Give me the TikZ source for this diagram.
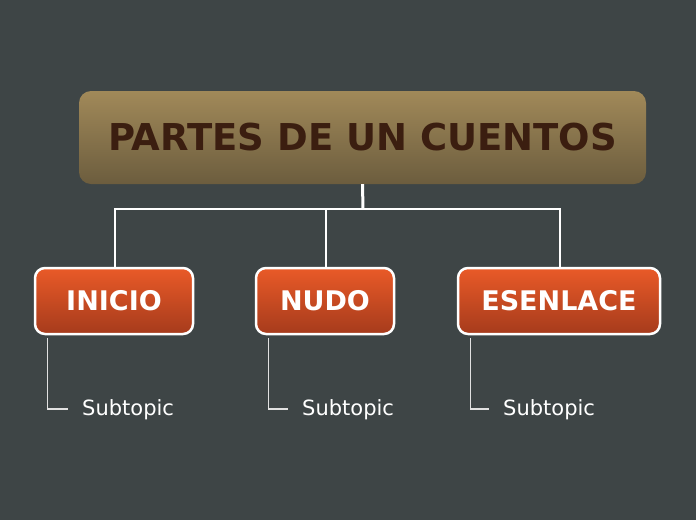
\documentclass[tikz,border=0pt]{standalone}
\usepackage{fontspec}
\setmainfont{DejaVu Sans}
\definecolor{bgc}{RGB}{62,69,70}
\definecolor{titletop}{RGB}{161,137,89}
\definecolor{titlebot}{RGB}{108,93,62}
\definecolor{titletext}{RGB}{59,30,16}
\definecolor{childtop}{RGB}{233,90,40}
\definecolor{childbot}{RGB}{166,59,28}
\definecolor{subline}{RGB}{225,225,225}
\tikzset{
  titlebox/.style={rounded corners=12pt, top color=titletop, bottom color=titlebot,
    minimum width=567pt, minimum height=93pt, inner sep=0pt, text=titletext,
    font=\fontsize{37}{40}\selectfont\bfseries},
  childbox/.style={rounded corners=10pt, draw=white, line width=2.5pt,
    top color=childtop, bottom color=childbot, minimum height=66pt, inner sep=0pt,
    text=white, font=\fontsize{27}{30}\selectfont\bfseries},
  subtext/.style={anchor=west, inner sep=0pt, text=white, font=\fontsize{21}{24}\selectfont},
  conn/.style={draw=white, line width=2.7pt},
  subconn/.style={draw=subline, line width=1.4pt},
}
\begin{document}
\begin{tikzpicture}[x=1pt,y=1pt]
\fill[bgc] (0,0) rectangle (696,-520);
\useasboundingbox (0,0) rectangle (696,-520);
\node[titlebox] (title) at (362.5,-137.5) {PARTES DE UN CUENTOS};
\node[childbox, minimum width=158pt] (inicio) at (114,-301) {INICIO};
\node[childbox, minimum width=138pt] (nudo) at (325,-301) {NUDO};
\node[childbox, minimum width=202pt] (esenlace) at (559,-301) {ESENLACE};
\coordinate (j) at (363,-209);
\draw[conn, line width=3pt] (title.south) -- (j);
\draw[conn] (j) -| ([xshift=1pt]inicio.north);
\draw[conn] (j) -| ([xshift=1pt]nudo.north);
\draw[conn] (j) -| ([xshift=1pt]esenlace.north);
\node[subtext] (sub1) at (82,-410) {Subtopic};
\node[subtext] (sub2) at (302,-410) {Subtopic};
\node[subtext] (sub3) at (503,-410) {Subtopic};
\draw[subconn] ([xshift=14pt,yshift=-3pt]inicio.south west) |- ([xshift=-14pt,yshift=1pt]sub1.west);
\draw[subconn] ([xshift=14pt,yshift=-3pt]nudo.south west) |- ([xshift=-14pt,yshift=1pt]sub2.west);
\draw[subconn] ([xshift=14pt,yshift=-3pt]esenlace.south west) |- ([xshift=-14pt,yshift=1pt]sub3.west);
\end{tikzpicture}
\end{document}
